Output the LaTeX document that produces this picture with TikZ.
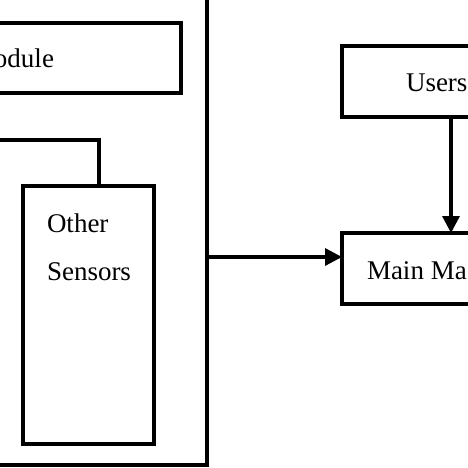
\documentclass[tikz,border=0pt]{standalone}
\usepackage{fontspec}
\setmainfont{Liberation Serif}
\usetikzlibrary{arrows.meta,calc}
\begin{document}
\begin{tikzpicture}[x=1pt,y=-1pt,
  box/.style={draw=black,line width=3.2pt,rectangle,inner sep=0pt,outer sep=0pt,fill=none},
  lbl/.style={anchor=base west,inner sep=0pt,outer sep=0pt,font=\fontsize{27}{48}\selectfont},
  conn/.style={line width=3.2pt},
  arr/.style={conn,-{Triangle[length=17pt,width=17pt]}}]
\useasboundingbox (0,0) rectangle (468,468);
\clip (0,0) rectangle (468,468);
% outer box
\node[box,minimum width=247pt,minimum height=505pt] (outer) at (83.5,212.5) {};
% module box
\node[box,minimum width=281pt,minimum height=70pt] (module) at (40.5,58) {};
\node[lbl] (moduletxt) at (-6,68) {odule};
% other sensors box
\node[box,minimum width=131pt,minimum height=258pt] (other) at (88.5,315) {};
\node[lbl] (othertxt) at (47,232) {Other};
\node[lbl] (sensorstxt) at (47,280) {Sensors};
% bracket line
\coordinate (brk) at (-10,140);
\draw[conn] (brk) -| ([xshift=10.5pt]other.north);
% users box
\node[box,minimum width=218pt,minimum height=71pt] (users) at (451,81.5) {};
\node[lbl] (userstxt) at (406,92) {Users};
% main box
\node[box,minimum width=218pt,minimum height=71pt] (main) at (451,268.5) {};
\node[lbl] (maintxt) at (367,279) {Main Ma};
% connectors
\coordinate (mainin) at ([yshift=11.5pt]main.west);
\draw[arr] (outer.east |- mainin) -- (mainin);
\draw[arr] (users.south) -- (main.north);
\end{tikzpicture}
\end{document}
